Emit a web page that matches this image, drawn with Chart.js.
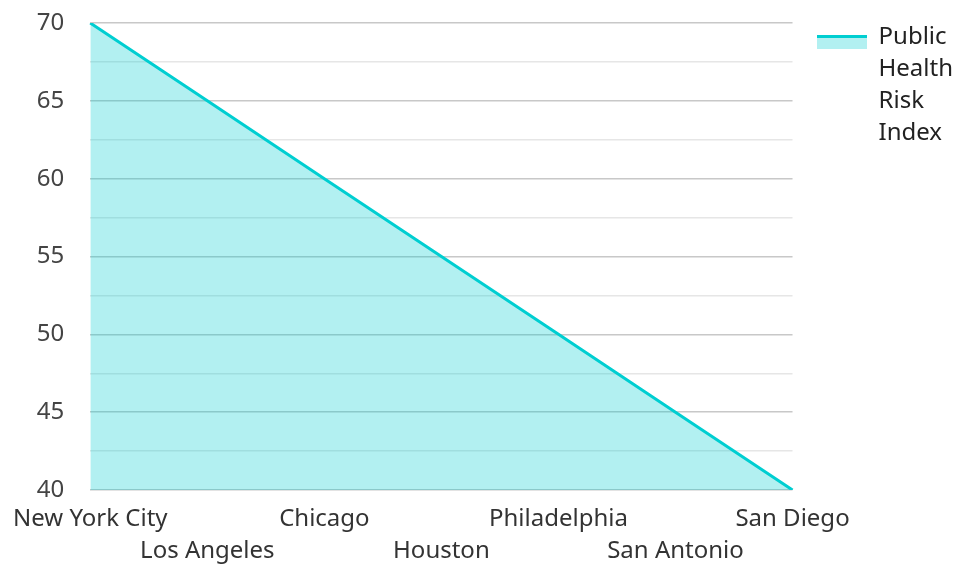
<!DOCTYPE html>
<html>
<head>
<meta charset="utf-8">
<script src="https://cdn.jsdelivr.net/npm/chart.js@4.4.1/dist/chart.umd.min.js"></script>
<style>
  html, body { margin: 0; padding: 0; background: #fff; }
  #wrap { width: 955px; height: 564px; position: relative; }
</style>
</head>
<body>
<div id="wrap"><canvas id="chart"></canvas></div>
<script>
'use strict';

// ---- Data ----

const cities = [
  'New York City', 'Los Angeles', 'Chicago', 'Houston',
  'Philadelphia', 'San Antonio', 'San Diego',
];
const riskIndex = [70, 65, 60, 55, 50, 45, 40];
const seriesName = ['Public', 'Health', 'Risk', 'Index'];

// ---- Style ----

const LINE = '#00CED1';
const FILL = 'rgba(0,206,209,0.3)';
const FONT = { family: '"Noto Sans", "Open Sans", sans-serif', size: 24, lineHeight: 32 / 24 };

// legend marker: thick line on top of a filled band
function makeMarker() {
  const c = document.createElement('canvas');
  c.width = 50;
  c.height = 28;
  const g = c.getContext('2d');
  g.fillStyle = FILL;
  g.fillRect(0, 15, 50, 11);
  g.fillStyle = LINE;
  g.fillRect(0, 12, 50, 3);
  return c;
}

// staggered x labels: odd ones go on a second line
const xLabels = cities.map((c, i) => (i % 2 ? ['', c] : c));

new Chart(document.getElementById('chart'), {
  type: 'line',
  data: {
    labels: xLabels,
    datasets: [{
      label: seriesName.join(' '),
      data: riskIndex,
      borderColor: LINE,
      backgroundColor: FILL,
      borderWidth: 3,
      fill: 'origin',
      tension: 0,
      pointRadius: 0,
      pointHoverRadius: 0,
    }],
  },
  options: {
    responsive: true,
    maintainAspectRatio: false,
    animation: false,
    // legend box runs a little past the right edge, text still fits
    layout: { padding: { left: 10, top: 1, right: -8, bottom: 0 } },
    plugins: {
      tooltip: { enabled: false },
      legend: {
        position: 'right',
        align: 'start',
        labels: {
          font: FONT,
          color: '#222',
          usePointStyle: true,
          pointStyle: makeMarker(),
          pointStyleWidth: 50,
          padding: 24,
          generateLabels(chart) {
            const items = Chart.defaults.plugins.legend.labels.generateLabels(chart);
            items.forEach(it => { it.text = seriesName; });
            return items;
          },
        },
      },
    },
    scales: {
      x: {
        offset: false,
        grid: { display: false, drawTicks: false },
        border: { display: false },
        ticks: {
          font: FONT,
          color: '#333',
          autoSkip: false,
          maxRotation: 0,
          padding: 13,
        },
        afterFit(scale) { scale.height = 74; },
      },
      y: {
        min: 40,
        max: 70,
        border: { display: false },
        grid: {
          drawTicks: false,
          color: ctx => (ctx.tick && ctx.tick.value % 5 === 0 ? '#c8c8c8' : '#e6e6e6'),
          lineWidth: 1.5,
        },
        ticks: {
          stepSize: 2.5,
          font: FONT,
          color: '#444',
          padding: 26,
          callback: v => (v % 5 === 0 ? v : ''),
        },
        afterFit(scale) { scale.paddingTop = 23; scale.paddingBottom = 0; },
      },
    },
  },
});
</script>
</body>
</html>
